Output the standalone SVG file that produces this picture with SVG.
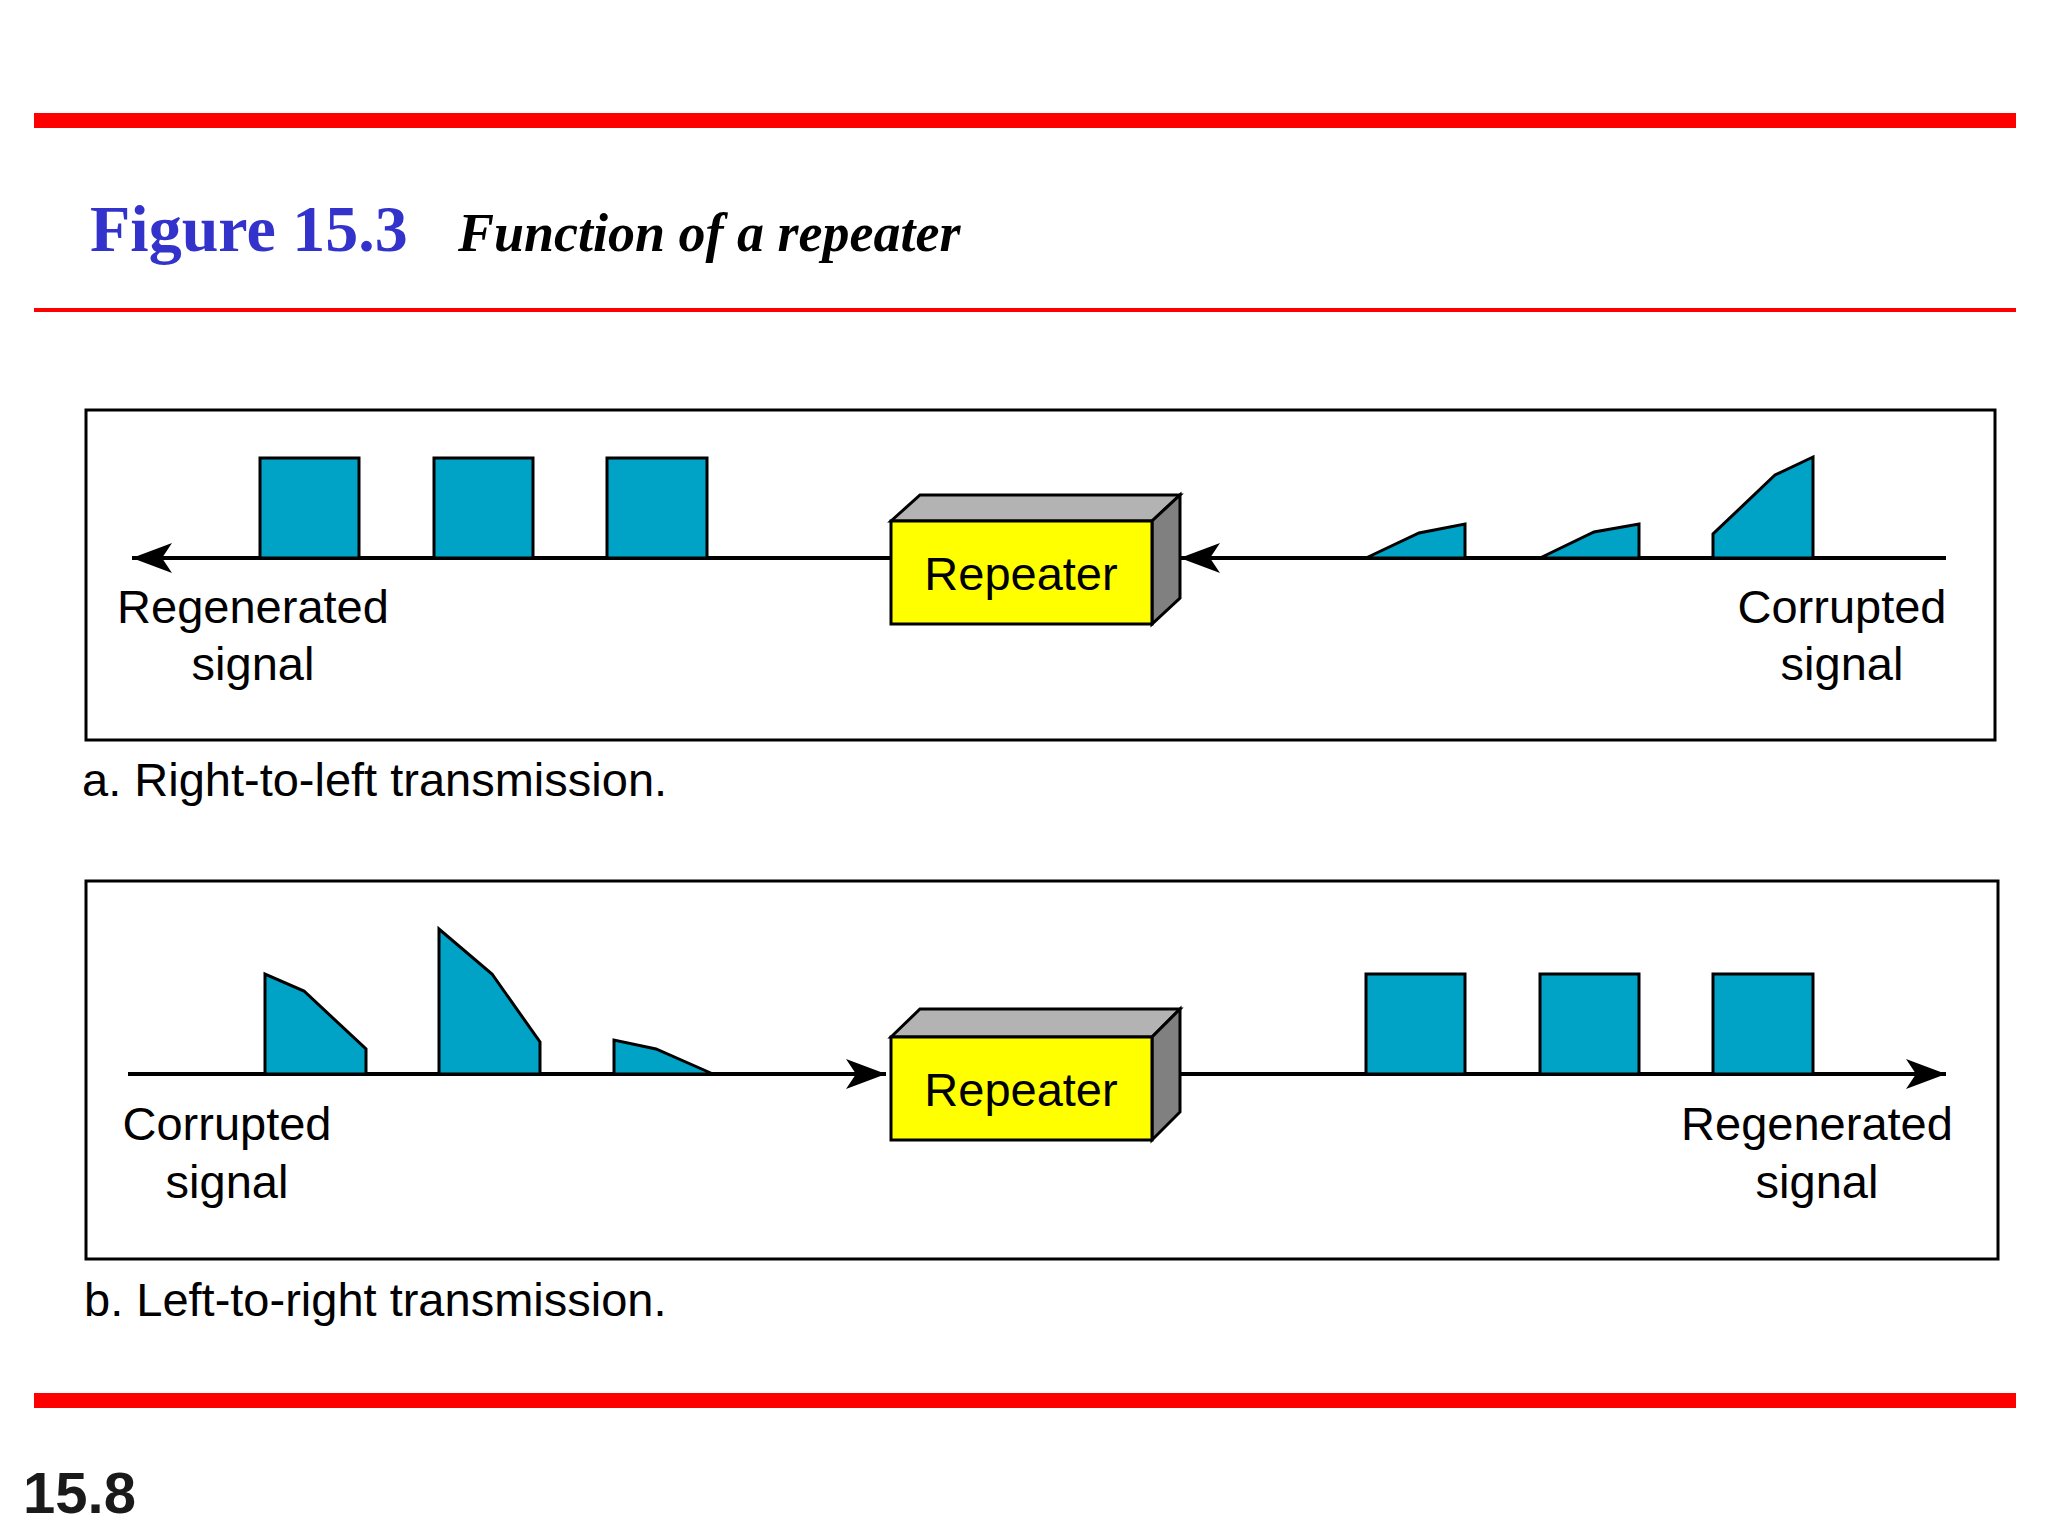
<svg xmlns="http://www.w3.org/2000/svg" width="2048" height="1536" viewBox="0 0 2048 1536">
<style>
.sq{fill:#00a2c6;stroke:#000;stroke-width:3}
.ln{stroke:#000;stroke-width:4;fill:none}
.lbl{font-family:"Liberation Sans",Arial,sans-serif;font-size:47px;fill:#000}
.frame{fill:none;stroke:#000;stroke-width:3}
.front{fill:#ffff00;stroke:#000;stroke-width:3}
.top{fill:#b3b3b3;stroke:#000;stroke-width:3}
.side{fill:#808080;stroke:#000;stroke-width:3}
</style>
<defs>
<marker id="ah" viewBox="0 0 20 16" refX="20" refY="8" markerWidth="20" markerHeight="16" markerUnits="userSpaceOnUse" orient="auto">
<path d="M0,0 L20,8 L0,16 L6,8 Z" fill="#000"/>
</marker>
<marker id="ahl" viewBox="0 0 40 30" refX="40" refY="15" markerWidth="40" markerHeight="30" markerUnits="userSpaceOnUse" orient="auto">
<path d="M0,0 L40,15 L0,30 L10,15 Z" fill="#000"/>
</marker>
</defs>
<rect width="2048" height="1536" fill="#fff"/>
<rect x="34" y="113" width="1982" height="15" fill="#ff0000"/>
<rect x="34" y="308" width="1982" height="4" fill="#ff0000"/>
<rect x="34" y="1393" width="1982" height="15" fill="#ff0000"/>
<text x="90" y="251" font-family="Liberation Serif,serif" font-weight="bold" font-size="66" fill="#3333cc">Figure 15.3</text>
<text x="458" y="251" font-family="Liberation Serif,serif" font-weight="bold" font-style="italic" font-size="54" fill="#000">Function of a repeater</text>
<text x="23" y="1513" font-family="Liberation Sans,sans-serif" font-weight="bold" font-size="58" fill="#1a1a1a">15.8</text>

<g id="panel-a">
<rect class="frame" x="86" y="410" width="1909" height="330"/>
<g id="connectors-a">
<line class="ln" x1="891" y1="558" x2="132" y2="558" marker-end="url(#ahl)"/>
<line class="ln" x1="1946" y1="558" x2="1180" y2="558" marker-end="url(#ahl)"/>
</g>
<rect class="sq" x="260" y="458" width="99" height="100"/>
<rect class="sq" x="434" y="458" width="99" height="100"/>
<rect class="sq" x="607" y="458" width="100" height="100"/>
<polygon class="sq" points="1366,558 1419,533 1465,524 1465,558"/>
<polygon class="sq" points="1540,558 1594,532 1639,524 1639,558"/>
<polygon class="sq" points="1713,558 1713,534 1775,475 1813,457 1813,558"/>
<g id="repeater-a">
<polygon class="top" points="891,521 920,495 1180,495 1152,521"/>
<polygon class="side" points="1152,521 1180,495 1180,598 1152,624"/>
<rect class="front" x="891" y="521" width="261" height="103"/>
<text class="lbl" x="1021" y="590" text-anchor="middle" font-size="50">Repeater</text>
</g>
<text class="lbl" x="253" y="623" text-anchor="middle">Regenerated</text>
<text class="lbl" x="253" y="680" text-anchor="middle">signal</text>
<text class="lbl" x="1842" y="623" text-anchor="middle">Corrupted</text>
<text class="lbl" x="1842" y="680" text-anchor="middle">signal</text>
<text class="lbl" x="82" y="796">a. Right-to-left transmission.</text>
</g>

<g id="panel-b">
<rect class="frame" x="86" y="881" width="1912" height="378"/>
<g id="connectors-b">
<line class="ln" x1="128" y1="1074" x2="886" y2="1074" marker-end="url(#ahl)"/>
<line class="ln" x1="1166" y1="1074" x2="1946" y2="1074" marker-end="url(#ahl)"/>
</g>
<polygon class="sq" points="265,1074 265,974 304,991 366,1049 366,1074"/>
<polygon class="sq" points="439,1074 439,929 492,974 540,1042 540,1074"/>
<polygon class="sq" points="614,1074 614,1040 656,1049 713,1074"/>
<rect class="sq" x="1366" y="974" width="99" height="100"/>
<rect class="sq" x="1540" y="974" width="99" height="100"/>
<rect class="sq" x="1713" y="974" width="100" height="100"/>
<g id="repeater-b">
<polygon class="top" points="891,1037 920,1009 1180,1009 1152,1037"/>
<polygon class="side" points="1152,1037 1180,1009 1180,1112 1152,1140"/>
<rect class="front" x="891" y="1037" width="261" height="103"/>
<text class="lbl" x="1021" y="1106" text-anchor="middle" font-size="50">Repeater</text>
</g>
<text class="lbl" x="227" y="1140" text-anchor="middle">Corrupted</text>
<text class="lbl" x="227" y="1198" text-anchor="middle">signal</text>
<text class="lbl" x="1817" y="1140" text-anchor="middle">Regenerated</text>
<text class="lbl" x="1817" y="1198" text-anchor="middle">signal</text>
<text class="lbl" x="84" y="1316">b. Left-to-right transmission.</text>
</g>
</svg>
